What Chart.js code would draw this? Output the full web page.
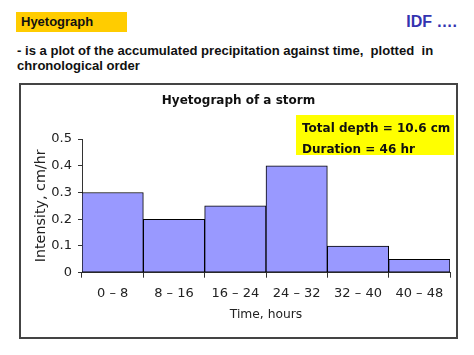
<!DOCTYPE html>
<html>
<head>
<meta charset="utf-8">
<script src="https://cdn.jsdelivr.net/npm/chart.js@4"></script>
<style>
  html, body { margin: 0; padding: 0; background: #fff; }
  body { width: 474px; height: 355px; position: relative; overflow: hidden; }
  #c { position: absolute; left: 0; top: 0; }
  .abs { position: absolute; white-space: pre; }
  #tag { left: 16px; top: 12px; width: 111px; height: 20px; background: #FFCC00;
         font: bold 13px "Liberation Sans", Arial, sans-serif; color: #111; line-height: 20px; padding-left: 5px; box-sizing: border-box; }
  #idf { right: 17px; top: 12px; font: bold 16px "Liberation Sans", Arial, sans-serif; color: #3333B0; line-height: 20px; }
  #desc { left: 17px; top: 43px; font: bold 13.1px "Liberation Sans", Arial, sans-serif; color: #111; line-height: 15px; }
  #frame { left: 19px; top: 83px; width: 439px; height: 256px; border: 2px solid #444; box-sizing: border-box; }
  #note { left: 296px; top: 115px; width: 158px; height: 40px; background: #FFFF00;
          font: bold 12px "DejaVu Sans", Verdana, sans-serif; color: #111; padding: 3px 0 0 6px; box-sizing: border-box; line-height: 21px; }
</style>
</head>
<body>
<div class="abs" id="tag">Hyetograph</div>
<div class="abs" id="idf">IDF ….</div>
<div class="abs" id="desc">- is a plot of the accumulated precipitation against time,  plotted  in
chronological order</div>
<canvas id="c" width="474" height="355"></canvas>
<div class="abs" id="frame"></div>
<div class="abs" id="note">Total depth = 10.6 cm
Duration = 46 hr</div>
<script>
const categories = ['0 – 8', '8 – 16', '16 – 24', '24 – 32', '32 – 40', '40 – 48'];
const intensity = [0.3, 0.2, 0.25, 0.4, 0.1, 0.05];
const yMin = 0, yMax = 0.5, yStep = 0.1;
const chartTitle = 'Hyetograph of a storm';
const xTitle = 'Time, hours';
const yTitle = 'Intensity, cm/hr';

const fam = '"DejaVu Sans", Verdana, sans-serif';
const axisFont = { family: fam, size: 13 };

new Chart(document.getElementById('c'), {
  type: 'bar',
  data: {
    labels: categories,
    datasets: [{
      data: intensity,
      backgroundColor: '#9999FF',
      borderColor: '#000000',
      borderWidth: 1,
      borderSkipped: false,
      barPercentage: 1,
      categoryPercentage: 1
    }]
  },
  options: {
    responsive: false,
    animation: false,
    devicePixelRatio: 1,
    layout: { padding: { left: 27, right: 24, top: 85, bottom: 17 } },
    plugins: {
      legend: { display: false },
      tooltip: { enabled: false },
      title: {
        display: true,
        text: chartTitle,
        color: '#111',
        font: { family: fam, size: 12, weight: 'bold' },
        padding: { top: 8.6, bottom: 31 }
      }
    },
    scales: {
      x: {
        grid: { display: true, drawOnChartArea: false, drawTicks: true, tickLength: 5, color: '#333', offset: true },
        border: { display: true, color: '#333', width: 1 },
        ticks: { color: '#222', font: axisFont, padding: 8, maxRotation: 0 },
        title: { display: true, text: xTitle, color: '#222', font: { family: fam, size: 12.3 }, padding: { top: 0, bottom: 15.5 } },
        afterFit: s => { s.height = 65.3; }
      },
      y: {
        min: yMin, max: yMax,
        grid: { display: true, drawOnChartArea: false, drawTicks: true, tickLength: 4, color: '#333' },
        border: { display: true, color: '#333', width: 1 },
        ticks: { stepSize: yStep, color: '#222', font: axisFont, padding: 6,
                 callback: v => String(+v.toFixed(1)) },
        title: { display: true, text: yTitle, color: '#222', font: { family: fam, size: 14.3 }, padding: { top: 5.5, bottom: 0 } },
        afterFit: s => { s.width = 55; }
      }
    }
  }
});
</script>
</body>
</html>
